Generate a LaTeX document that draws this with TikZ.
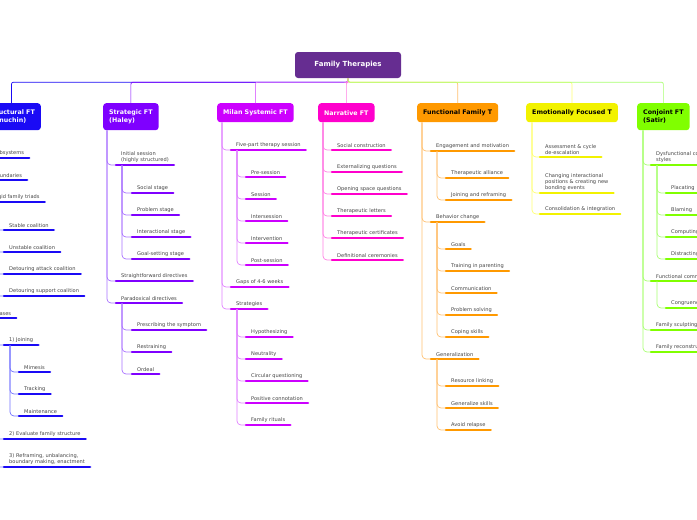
\documentclass[tikz,border=0pt]{standalone}
\usepackage{fontspec}
\setmainfont{DejaVu Sans}
\definecolor{cS}{HTML}{1A0AF5}\definecolor{lS}{HTML}{7070FF}
\definecolor{cH}{HTML}{7F00FF}\definecolor{lH}{HTML}{A870FF}
\definecolor{cM}{HTML}{CC00FF}\definecolor{lM}{HTML}{E080FF}
\definecolor{cN}{HTML}{FF00CC}\definecolor{lN}{HTML}{FF80E4}
\definecolor{cF}{HTML}{FF9900}\definecolor{lF}{HTML}{FFC070}
\definecolor{cE}{HTML}{F2F200}\definecolor{lE}{HTML}{FFFF70}
\definecolor{cC}{HTML}{80FF00}\definecolor{lC}{HTML}{A8FF70}
\definecolor{root}{HTML}{662D91}
\definecolor{txt}{HTML}{444444}
\tikzset{
 itm/.style={inner xsep=5pt,inner ysep=2pt,font=\fontsize{5.1}{6.3}\selectfont,text=txt,align=left,anchor=south west},
 barline/.style={line width=2.4pt,line cap=round,draw=#1},
 conn/.style={line width=0.7pt,draw=#1,rounded corners=4pt},
 topbox/.style={rounded corners=3pt,fill=#1,inner xsep=6pt,inner ysep=4pt,font=\fontsize{6.3}{8}\selectfont\bfseries,align=left,minimum height=19pt},
}
\newcommand\itm[7]{% name parent xshift x y text col
 \draw[conn=l#7] ([xshift=#3pt]#2.south west) |- (#4,#5);
 \node[itm] (#1) at (#4,#5) {#6};
 \draw[barline=c#7] (#1.south west)--(#1.south east);}
\begin{document}
\begin{tikzpicture}[x=1pt,y=-1pt]
\useasboundingbox (0,0) rectangle (697,520);
\node[topbox=root,text=white,minimum width=106pt,minimum height=26pt,font=\fontsize{7}{8}\selectfont\bfseries] (R) at (348,65) {Family Therapies};
\node[topbox=cS,text=white,anchor=north east,minimum height=27pt] (S) at (41,103) {Structural FT\\(Minuchin)};
\node[topbox=cH,text=white,anchor=north west,minimum height=27pt] (H) at (103,103) {Strategic FT\\(Haley)};
\node[topbox=cM,text=white,anchor=north west] (M) at (217,103) {Milan Systemic FT};
\node[topbox=cN,text=white,anchor=north west] (N) at (318,103) {Narrative FT};
\node[topbox=cF,text=black,anchor=north west] (F) at (417,103) {Functional Family T};
\node[topbox=cE,text=black,anchor=north west] (E) at (526,103) {Emotionally Focused T};
\node[topbox=cC,text=black,anchor=north west,minimum height=27pt] (C) at (637,103) {Conjoint FT\\(Satir)};
\foreach \b/\c in {S/cS,H/cH,M/lM,N/lN,F/lF,E/lE,C/lC}
 \draw[conn=\c,rounded corners=2pt] (R.south) -- ++(0,4) -| (\b.north);
% Structural
\itm{s1}{S}{5}{-12}{158}{Subsystems}{S}
\itm{s2}{S}{5}{-12}{180}{Boundaries}{S}
\itm{s3}{S}{5}{-12}{202}{Rigid family triads}{S}
\itm{s31}{s3}{6}{4}{230}{Stable coalition}{S}
\itm{s32}{s3}{6}{4}{252}{Unstable coalition}{S}
\itm{s33}{s3}{6}{4}{274}{Detouring attack coalition}{S}
\itm{s34}{s3}{6}{4}{296}{Detouring support coalition}{S}
\itm{s4}{S}{5}{-12}{318}{Phases}{S}
\itm{s41}{s4}{6}{4}{345}{1) Joining}{S}
\itm{s411}{s41}{6}{19}{372}{Mimesis}{S}
\itm{s412}{s41}{6}{19}{394}{Tracking}{S}
\itm{s413}{s41}{6}{19}{416}{Maintenance}{S}
\itm{s42}{s4}{6}{4}{439}{2) Evaluate family structure}{S}
\itm{s43}{s4}{6}{4}{467}{3) Reframing, unbalancing,\\boundary making, enactment}{S}
% Strategic
\itm{h1}{H}{4}{116}{165}{Initial session\\(highly structured)}{H}
\itm{h11}{h1}{6}{132}{193}{Social stage}{H}
\itm{h12}{h1}{6}{132}{215}{Problem stage}{H}
\itm{h13}{h1}{6}{132}{237}{Interactional stage}{H}
\itm{h14}{h1}{6}{132}{259}{Goal-setting stage}{H}
\itm{h2}{H}{4}{116}{281}{Straightforward directives}{H}
\itm{h3}{H}{4}{116}{303}{Paradoxical directives}{H}
\itm{h31}{h3}{6}{132}{330}{Prescribing the symptom}{H}
\itm{h32}{h3}{6}{132}{352}{Restraining}{H}
\itm{h33}{h3}{6}{132}{374}{Ordeal}{H}
% Milan
\itm{m1}{M}{5}{231}{150}{Five-part therapy session}{M}
\itm{m11}{m1}{6}{246}{177}{Pre-session}{M}
\itm{m12}{m1}{6}{246}{199}{Session}{M}
\itm{m13}{m1}{6}{246}{221}{Intersession}{M}
\itm{m14}{m1}{6}{246}{243}{Intervention}{M}
\itm{m15}{m1}{6}{246}{265}{Post-session}{M}
\itm{m2}{M}{5}{231}{287}{Gaps of 4-6 weeks}{M}
\itm{m3}{M}{5}{231}{309}{Strategies}{M}
\itm{m31}{m3}{6}{246}{337}{Hypothesizing}{M}
\itm{m32}{m3}{6}{246}{359}{Neutrality}{M}
\itm{m33}{m3}{6}{246}{381}{Circular questioning}{M}
\itm{m34}{m3}{6}{246}{403}{Positive connotation}{M}
\itm{m35}{m3}{6}{246}{425}{Family rituals}{M}
% Narrative
\itm{n1}{N}{5}{332}{150}{Social construction}{N}
\itm{n2}{N}{5}{332}{172}{Externalizing questions}{N}
\itm{n3}{N}{5}{332}{194}{Opening space questions}{N}
\itm{n4}{N}{5}{332}{216}{Therapeutic letters}{N}
\itm{n5}{N}{5}{332}{238}{Therapeutic certificates}{N}
\itm{n6}{N}{5}{332}{260}{Definitional ceremonies}{N}
% Functional
\itm{f1}{F}{5}{431}{151}{Engagement and motivation}{F}
\itm{f11}{f1}{6}{446}{178}{Therapeutic alliance}{F}
\itm{f12}{f1}{6}{446}{200}{Joining and reframing}{F}
\itm{f2}{F}{5}{431}{222}{Behavior change}{F}
\itm{f21}{f2}{6}{446}{249}{Goals}{F}
\itm{f22}{f2}{6}{446}{271}{Training in parenting}{F}
\itm{f23}{f2}{6}{446}{293}{Communication}{F}
\itm{f24}{f2}{6}{446}{315}{Problem solving}{F}
\itm{f25}{f2}{6}{446}{337}{Coping skills}{F}
\itm{f3}{F}{5}{431}{359}{Generalization}{F}
\itm{f31}{f3}{6}{446}{386}{Resource linking}{F}
\itm{f32}{f3}{6}{446}{408}{Generalize skills}{F}
\itm{f33}{f3}{6}{446}{430}{Avoid relapse}{F}
% Emotionally focused
\itm{e1}{E}{6}{540}{157}{Assessment \& cycle\\de-escalation}{E}
\itm{e2}{E}{6}{540}{193}{Changing interactional\\positions \& creating new\\bonding events}{E}
\itm{e3}{E}{6}{540}{214}{Consolidation \& integration}{E}
% Conjoint
\itm{c1}{C}{6}{651}{165}{Dysfunctional communication\\styles}{C}
\itm{c11}{c1}{6}{666}{193}{Placating}{C}
\itm{c12}{c1}{6}{666}{215}{Blaming}{C}
\itm{c13}{c1}{6}{666}{237}{Computing}{C}
\itm{c14}{c1}{6}{666}{259}{Distracting}{C}
\itm{c2}{C}{6}{651}{281}{Functional communication}{C}
\itm{c21}{c2}{6}{666}{308}{Congruence}{C}
\itm{c3}{C}{6}{651}{330}{Family sculpting}{C}
\itm{c4}{C}{6}{651}{352}{Family reconstruction}{C}
\end{tikzpicture}
\end{document}
